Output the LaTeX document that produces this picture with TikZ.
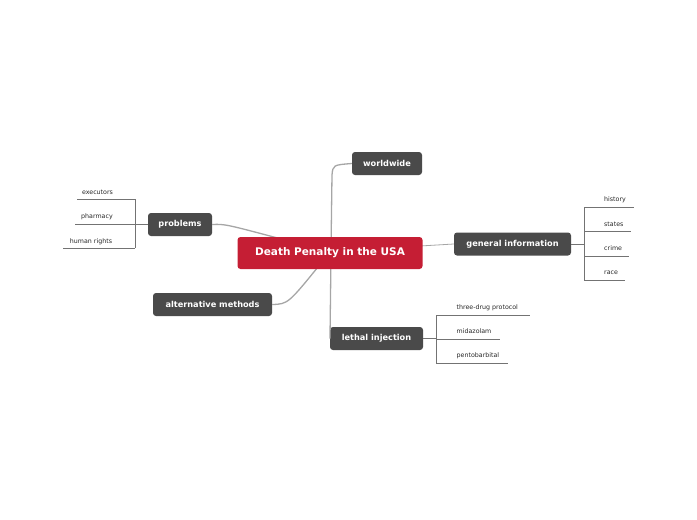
\documentclass[tikz,border=0pt]{standalone}
\usepackage{fontspec}
\setmainfont{DejaVu Sans}
\begin{document}
\begin{tikzpicture}[x=1pt,y=-1pt,
  topic/.style={fill=topicgray,rounded corners=3pt,text=white,font=\bfseries\fontsize{8.2}{10}\selectfont,minimum height=23pt,inner xsep=0pt},
  leaf/.style={font=\fontsize{6.3}{8}\selectfont,text=black!85,inner sep=0pt},
  conn/.style={draw=black!35,line width=1.3pt},
  br/.style={draw=black!55,line width=0.6pt}]
\definecolor{topicgray}{HTML}{4A4A4A}
\definecolor{redc}{HTML}{C51E34}
\useasboundingbox (0,0) rectangle (697,520);
% connectors
\coordinate (c) at (330,253);
\node[topic,minimum width=70pt] (ww) at (387,163.5) {worldwide};
\node[topic,minimum width=64pt] (pr) at (180,224.5) {problems};
\node[topic,minimum width=117pt] (gi) at (512.5,244) {general information};
\node[topic,minimum width=119pt] (am) at (212.5,304.5) {alternative methods};
\node[topic,minimum width=93pt] (li) at (376.5,338.5) {lethal injection};
\draw[conn] (331,250) -- (332,175) .. controls (333,165) .. (ww.west);
\draw[conn] (331,255) -- (330,338) -- (li.west);
\draw[conn] (pr.east) .. controls (225,224) .. (285,240);
\draw[conn] (am.east) .. controls (288,304) .. (322,262);
\draw[conn,line width=0.8pt] (gi.west) -- (420,246);
\node[fill=redc,rounded corners=3pt,text=white,font=\bfseries\fontsize{10.5}{12}\selectfont,minimum width=185pt,minimum height=32pt,inner xsep=0pt] (ctr) at (330,253) {Death Penalty in the USA};
% problems leaves
\draw[br,line width=1pt] (pr.west) -- (135,224.5);
\draw[br] (135,199) -- (135,248);
\draw[br] (77,199) -- (135,199);
\draw[br] (75,224) -- (135,224);
\draw[br] (63,248) -- (135,248);
\node[leaf] (l1) at (97.5,192.5) {executors};
\node[leaf] (l2) at (97,216.5) {pharmacy};
\node[leaf] (l3) at (91,241.5) {human rights};
% general information leaves
\draw[br,line width=1pt] (gi.east) -- (584,244);
\draw[br] (584,207) -- (584,280);
\draw[br] (584,207) -- (634,207);
\draw[br] (584,231) -- (631,231);
\draw[br] (584,256) -- (629,256);
\draw[br] (584,280) -- (625,280);
\node[leaf,anchor=west] (g1) at (604,199.5) {history};
\node[leaf,anchor=west] (g2) at (604,224.5) {states};
\node[leaf,anchor=west] (g3) at (604,248.5) {crime};
\node[leaf,anchor=west] (g4) at (604,273) {race};
% lethal injection leaves
\draw[br,line width=1pt] (li.east) -- (436,338.5);
\draw[br] (436,315) -- (436,363);
\draw[br] (436,315) -- (530,315);
\draw[br] (436,339) -- (500,339);
\draw[br] (436,363) -- (508,363);
\node[leaf,anchor=west] (t1) at (456.5,307.5) {three-drug protocol};
\node[leaf,anchor=west] (t2) at (456.5,331.5) {midazolam};
\node[leaf,anchor=west] (t3) at (456.5,356) {pentobarbital};
\end{tikzpicture}
\end{document}
